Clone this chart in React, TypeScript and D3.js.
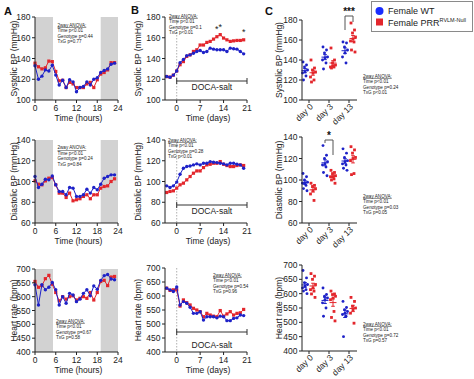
import React from "react";
import * as d3 from "d3";

// ---------- DATA ----------
const hours = [0, 1, 2, 3, 4, 5, 6, 7, 8, 9, 10, 11, 12, 13, 14, 15, 16, 17, 18, 19, 20, 21, 22, 23];
const days = [-3, -2, -1, 0, 1, 2, 3, 4, 5, 6, 7, 8, 9, 10, 11, 12, 13, 14, 15, 16, 17, 18, 19, 20];
const hourTicks = [0, 6, 12, 18, 24];
const dayTicks = [0, 7, 14, 21];
const cDays = ["day 0", "day 3", "day 13"];

const sysHrWT = [133, 120, 123, 129, 128, 133.5, 124, 114.5, 119, 112, 119.5, 117.5, 108, 112, 113, 117.5, 114.5, 120, 121.5, 126.5, 128.5, 130, 134.5, 135.5];
const sysHrKO = [135.5, 132, 130, 131, 137.5, 137, 127.5, 118.5, 119, 112, 117, 115.5, 112, 112, 112, 115.5, 117, 112, 119.5, 125, 126.5, 129, 136, 136];
const diaHrWT = [104.8, 94.2, 97.4, 102.2, 101.6, 105.4, 96.8, 90.4, 90.4, 87.2, 94.2, 93.6, 85.6, 85.6, 87.2, 92.6, 88.8, 94.2, 92, 97.4, 103.2, 104.8, 106.4, 106.4];
const diaHrKO = [100.6, 97.4, 96.8, 100.6, 103.2, 103.8, 96.8, 88.8, 88.8, 84.6, 88.8, 81.4, 82.4, 83.4, 85.6, 87.2, 83.4, 87.2, 87.2, 93.6, 95.2, 95.8, 100, 102.6];
const hrHrWT = [643, 570, 643, 625, 634, 651, 625, 570, 600, 576, 612, 606, 582, 591, 612, 625, 603, 639, 627, 659, 676, 680, 664, 661];
const hrHrKO = [655, 634, 640, 665, 677, 645, 615, 585, 600, 591, 600, 603, 588, 594, 600, 594, 615, 588, 615, 655, 659, 640, 671, 673];

const sysDayWT = [122.6, 122, 124, 128, 136, 139, 142.6, 143.5, 145, 146.8, 147.7, 145.8, 146.8, 150, 149, 148.4, 148.4, 148.4, 146.8, 150, 149.4, 149, 146.8, 144.5];
const sysDayKO = [122.6, 122, 124, 128, 134, 137, 142, 143.5, 146.8, 148.4, 153, 153, 155.5, 156.5, 158.7, 161, 163, 159.7, 158, 156.5, 157, 157.4, 157.4, 158];
const diaDayWT = [95.8, 94.2, 95.8, 99.4, 107, 112.8, 114.4, 115, 116, 117, 116, 117.6, 117.6, 119.2, 118.6, 118.2, 117.6, 117, 116, 117.6, 117.6, 116.6, 116, 112.8];
const diaDayKO = [89.4, 90.4, 91, 93.6, 96.8, 98.4, 101.6, 104.8, 108, 110.2, 110.2, 113.4, 116, 116.6, 117.6, 117.6, 119.2, 116.6, 115.4, 114.4, 114.4, 115.4, 116, 115.4];
const hrDayWT = [628, 622, 616, 632, 568, 580, 574, 560, 538, 538, 544, 514, 526, 526, 526, 522, 528, 526, 512, 512, 520, 522, 532, 530];
const hrDayKO = [628, 620, 622, 622, 564, 586, 576, 568, 556, 550, 544, 526, 538, 532, 528, 526, 548, 528, 536, 544, 532, 538, 540, 552];
const sysSigDays = [12, 13, 20];

const sbpCWT = [[138, 135, 133, 130, 128, 127, 124, 120], [153, 150, 147, 143, 142, 140, 137, 131], [158, 157, 153, 150, 147, 143, 137]];
const sbpCKO = [[140, 132, 130, 128, 127, 123, 120, 118], [152, 140, 137, 135, 134, 133, 133, 132], [177, 170, 167, 163, 161, 159, 158, 150, 148]];
const dbpCWT = [[106, 103, 100, 98, 97, 97, 95, 92, 90], [132, 123, 120, 117, 115, 114, 112, 107, 104], [129, 125, 121, 118, 117, 115, 114, 111, 109]];
const dbpCKO = [[97, 95, 94, 92, 90, 87, 81], [109, 107, 106, 104, 103, 103, 101, 100, 97], [131, 128, 125, 121, 120, 118, 106, 105]];
const hrCWT = [[681, 655, 638, 632, 626, 620, 614, 609, 600], [620, 597, 591, 585, 579, 568, 550, 521], [573, 552, 544, 538, 532, 527, 521, 450]];
const hrCKO = [[670, 661, 650, 632, 620, 614, 609, 599, 587], [609, 599, 597, 591, 585, 579, 538, 517, 505], [587, 573, 556, 550, 544, 532, 497]];

const sysTicks = [100, 120, 140, 160, 180];
const diaTicks = [60, 80, 100, 120, 140];
const hrTicks = [400, 450, 500, 550, 600, 650, 700];

const anova = {
  sysA: ["Time p<0.01", "Genotype p=0.44", "TxG p=0.77"],
  sysB: ["Time p<0.01", "Genotype p=0.1", "TxG p<0.01"],
  sysC: ["Time p<0.01", "Genotype p=0.24", "TxG p<0.01"],
  diaA: ["Time p<0.01", "Genotype p=0.24", "TxG p=0.84"],
  diaB: ["Time p<0.01", "Genotype p=0.28", "TxG p<0.01"],
  diaC: ["Time p<0.01", "Genotype p=0.03", "TxG p=0.05"],
  hrA: ["Time p<0.01", "Genotype p=0.67", "TxG p=0.58"],
  hrB: ["Time p<0.01", "Genotype p=0.54", "TxG p=0.96"],
  hrC: ["Time p<0.01", "Genotype p=0.72", "TxG p=0.57"],
};

// ---------- STYLE ----------
const BLUE = "#1e22c8";
const RED = "#e3262c";
const AX = "#222";
const FONT = "Arial, 'Liberation Sans', sans-serif";
const FS = 8.5;

const jitter = [-2, 1.5, -0.5, 2.5, 0, -2.5, 1, -1.5, 2, -1];

function YAxis({ x0, y, ticks, label, labelX }: any) {
  const [b, t] = y.range();
  return (
    <g>
      <line x1={x0} x2={x0} y1={b} y2={t} stroke={AX} strokeWidth={1} />
      {ticks.map((v: number) => (
        <g key={v}>
          <line x1={x0 - 3} x2={x0} y1={y(v)} y2={y(v)} stroke={AX} strokeWidth={1} />
          <text x={x0 - 4.5} y={y(v)} textAnchor="end" dominantBaseline="central" fontSize={FS} fill="#222">{v}</text>
        </g>
      ))}
      <text transform={`translate(${labelX},${(b + t) / 2}) rotate(-90)`} textAnchor="middle" dominantBaseline="central" fontSize={FS} fill="#222">{label}</text>
    </g>
  );
}

function XAxis({ x, y0, ticks, title, x0, x1 }: any) {
  return (
    <g>
      <line x1={x0} x2={x1} y1={y0} y2={y0} stroke={AX} strokeWidth={1} />
      {ticks.map((v: number) => (
        <g key={v}>
          <line x1={x(v)} x2={x(v)} y1={y0} y2={y0 + 3} stroke={AX} strokeWidth={1} />
          <text x={x(v)} y={y0 + 10.5} textAnchor="middle" fontSize={FS} fill="#222">{v}</text>
        </g>
      ))}
      <text x={(x0 + x1) / 2 + 2} y={y0 + 21} textAnchor="middle" fontSize={FS} fill="#222">{title}</text>
    </g>
  );
}

function Anova({ x, y, lines }: any) {
  const fs = 4.6;
  const dy = 5.6;
  return (
    <g fontSize={fs} fill="#222">
      <text x={x} y={y} style={{ textDecoration: "underline" }}>2way ANOVA:</text>
      {lines.map((l: string, i: number) => (
        <text key={i} x={x} y={y + dy * (i + 1)}>{l}</text>
      ))}
    </g>
  );
}

function Series({ xs, vals, x, y, color, square }: any) {
  const line = d3.line<number>().x((_, i) => x(xs[i])).y((v) => y(v));
  return (
    <g>
      <path d={line(vals) || ""} fill="none" stroke={color} strokeWidth={1} />
      {vals.map((v: number, i: number) =>
        square ? (
          <rect key={i} x={x(xs[i]) - 1.6} y={y(v) - 1.6} width={3.2} height={3.2} fill={color} />
        ) : (
          <circle key={i} cx={x(xs[i])} cy={y(v)} r={1.7} fill={color} />
        )
      )}
    </g>
  );
}

function LinePanel({ kind, x0, x1, top, bot, domain, ticks, label, labelX, wt, ko, anovaPos, anovaLines, docaY, docaTextY, sig }: any) {
  const isA = kind === "A";
  const x = isA
    ? d3.scaleLinear().domain([0, 24]).range([x0, x1])
    : d3.scaleLinear().domain([-3.5, 21]).range([x0, x1]);
  const y = d3.scaleLinear().domain(domain).range([bot, top]);
  const xs = isA ? hours : days;
  return (
    <g>
      {isA && (
        <g>
          <rect x={x(0)} y={top} width={x(5.2) - x(0)} height={bot - top} fill="#d2d2d2" />
          <rect x={x(19)} y={top} width={x(24) - x(19)} height={bot - top} fill="#d2d2d2" />
        </g>
      )}
      {!isA && (
        <g>
          <line x1={x(0)} x2={x(0)} y1={top} y2={bot} stroke="#9a9a9a" strokeWidth={0.8} strokeDasharray="1.5,1.5" />
          <line x1={x(0)} x2={x(21)} y1={docaY} y2={docaY} stroke="#333" strokeWidth={1} />
          <line x1={x(0)} x2={x(0)} y1={docaY - 3} y2={docaY + 3} stroke="#333" strokeWidth={1} />
          <line x1={x(21)} x2={x(21)} y1={docaY - 3} y2={docaY + 3} stroke="#333" strokeWidth={1} />
          <text x={(x(0) + x(21)) / 2} y={docaTextY} textAnchor="middle" fontSize={FS} fill="#222">DOCA-salt</text>
        </g>
      )}
      <Series xs={xs} vals={ko} x={x} y={y} color={RED} square />
      <Series xs={xs} vals={wt} x={x} y={y} color={BLUE} />
      {sig &&
        sig.map((d: number, i: number) => {
          const v = Math.max(ko[xs.indexOf(d)], wt[xs.indexOf(d)]);
          return (
            <text key={i} x={x(d)} y={y(v) - 5} textAnchor="middle" fontSize={9} fill="#222">*</text>
          );
        })}
      <YAxis x0={x0} y={y} ticks={ticks} label={label} labelX={labelX} />
      <XAxis x={x} y0={bot} ticks={isA ? hourTicks : dayTicks} title={isA ? "Time (hours)" : "Time (days)"} x0={x0} x1={x(isA ? 24 : 21)} />
      <Anova x={anovaPos[0]} y={anovaPos[1]} lines={anovaLines} />
    </g>
  );
}

function ScatterGroup({ vals, cx, y, color, square }: any) {
  const m = d3.mean(vals) as number;
  const sem = (d3.deviation(vals) as number) / Math.sqrt(vals.length);
  const sorted = [...vals].sort((a: number, b: number) => b - a);
  return (
    <g>
      {sorted.map((v: number, i: number) =>
        square ? (
          <rect key={i} x={cx + jitter[i % jitter.length] - 1.4} y={y(v) - 1.4} width={2.8} height={2.8} fill={color} />
        ) : (
          <circle key={i} cx={cx + jitter[i % jitter.length]} cy={y(v)} r={1.45} fill={color} />
        )
      )}
      <line x1={cx - 3.5} x2={cx + 3.5} y1={y(m)} y2={y(m)} stroke={color} strokeWidth={1} />
      <line x1={cx} x2={cx} y1={y(m - sem)} y2={y(m + sem)} stroke={color} strokeWidth={1} />
      <line x1={cx - 1.8} x2={cx + 1.8} y1={y(m - sem)} y2={y(m - sem)} stroke={color} strokeWidth={1} />
      <line x1={cx - 1.8} x2={cx + 1.8} y1={y(m + sem)} y2={y(m + sem)} stroke={color} strokeWidth={1} />
    </g>
  );
}

function ScatterPanel({ top, bot, domain, ticks, label, wt, ko, anovaPos, anovaLines, children }: any) {
  const x0 = 302;
  const x = d3.scalePoint().domain(cDays).range([309, 349]);
  const y = d3.scaleLinear().domain(domain).range([bot, top]);
  return (
    <g>
      {cDays.map((d, i) => (
        <g key={d}>
          <ScatterGroup vals={wt[i]} cx={(x(d) as number) - 4} y={y} color={BLUE} />
          <ScatterGroup vals={ko[i]} cx={(x(d) as number) + 4} y={y} color={RED} square />
        </g>
      ))}
      <YAxis x0={x0} y={y} ticks={ticks} label={label} labelX={279} />
      <line x1={x0} x2={357} y1={bot} y2={bot} stroke={AX} strokeWidth={1} />
      {cDays.map((d) => (
        <g key={d}>
          <line x1={x(d)} x2={x(d)} y1={bot} y2={bot + 3} stroke={AX} strokeWidth={1} />
          <text transform={`translate(${(x(d) as number) + 2.5},${bot + 5}) rotate(-45)`} textAnchor="end" dy="0.35em" fontSize={FS} fill="#222">{d}</text>
        </g>
      ))}
      <Anova x={anovaPos[0]} y={anovaPos[1]} lines={anovaLines} />
      {children && children(x, y)}
    </g>
  );
}

export default function App() {
  return (
    <svg width={474} height={379} style={{ position: "absolute", left: 0, top: 0, background: "#fff", fontFamily: FONT }}>
      <rect width={474} height={379} fill="#fff" />
      {/* panel letters */}
      <text x={4} y={15} fontSize={11} fontWeight="bold" fill="#111">A</text>
      <text x={131} y={14} fontSize={11} fontWeight="bold" fill="#111">B</text>
      <text x={265} y={15} fontSize={11} fontWeight="bold" fill="#111">C</text>

      {/* Row 1 */}
      <LinePanel kind="A" x0={35} x1={118} top={17} bot={100} domain={[100, 180]} ticks={sysTicks} label="Systolic BP (mmHg)" labelX={13.5} wt={sysHrWT} ko={sysHrKO} anovaPos={[57.5, 26.5]} anovaLines={anova.sysA} />
      <LinePanel kind="B" x0={165} x1={247} top={17} bot={100} domain={[100, 180]} ticks={sysTicks} label="Systolic BP (mmHg)" labelX={137.5} wt={sysDayWT} ko={sysDayKO} anovaPos={[169, 17.5]} anovaLines={anova.sysB} docaY={81} docaTextY={90} sig={sysSigDays} />
      <ScatterPanel top={20} bot={100} domain={[100, 180]} ticks={sysTicks} label="Systolic BP (mmHg)" wt={sbpCWT} ko={sbpCKO} anovaPos={[363, 77.5]} anovaLines={anova.sysC}>
        {(x: any) => {
          const a = (x("day 13") as number) - 4;
          const b = (x("day 13") as number) + 4;
          return (
            <g>
              <path d={`M${a},30V16H${b}V22`} fill="none" stroke="#555" strokeWidth={1} />
              <text x={(a + b) / 2} y={15} textAnchor="middle" fontSize={10} fontWeight="bold" fill="#111">***</text>
            </g>
          );
        }}
      </ScatterPanel>

      {/* Row 2 */}
      <LinePanel kind="A" x0={35} x1={118} top={140} bot={223} domain={[60, 140]} ticks={diaTicks} label="Diastolic BP (mmHg)" labelX={13.5} wt={diaHrWT} ko={diaHrKO} anovaPos={[57.5, 149]} anovaLines={anova.diaA} />
      <LinePanel kind="B" x0={165} x1={247} top={140} bot={223} domain={[60, 140]} ticks={diaTicks} label="Diastolic BP (mmHg)" labelX={137.5} wt={diaDayWT} ko={diaDayKO} anovaPos={[168, 141.5]} anovaLines={anova.diaB} docaY={205} docaTextY={214} />
      <ScatterPanel top={137} bot={223} domain={[60, 140]} ticks={diaTicks} label="Diastolic BP (mmHg)" wt={dbpCWT} ko={dbpCKO} anovaPos={[363, 197.5]} anovaLines={anova.diaC}>
        {(x: any) => {
          const a = (x("day 3") as number) - 4;
          const b = (x("day 3") as number) + 4;
          return (
            <g>
              <path d={`M${a},143V140H${b}V155`} fill="none" stroke="#555" strokeWidth={1} />
              <text x={(a + b) / 2} y={139} textAnchor="middle" fontSize={10} fontWeight="bold" fill="#111">*</text>
            </g>
          );
        }}
      </ScatterPanel>

      {/* Row 3 */}
      <LinePanel kind="A" x0={35} x1={118} top={269} bot={352} domain={[400, 700]} ticks={hrTicks} label="Heart rate (bpm)" labelX={13.5} wt={hrHrWT} ko={hrHrKO} anovaPos={[56, 322.5]} anovaLines={anova.hrA} />
      <LinePanel kind="B" x0={165} x1={247} top={268} bot={352} domain={[400, 700]} ticks={hrTicks} label="Heart rate (bpm)" labelX={137.5} wt={hrDayWT} ko={hrDayKO} anovaPos={[213, 276.5]} anovaLines={anova.hrB} docaY={332} docaTextY={348} />
      <ScatterPanel top={265} bot={351} domain={[400, 700]} ticks={hrTicks} label="Heart rate (bpm)" wt={hrCWT} ko={hrCKO} anovaPos={[363, 325.5]} anovaLines={anova.hrC} />

      {/* Legend */}
      <rect x={371.5} y={1.5} width={101} height={30} fill="#fff" stroke="#8a8a8a" strokeWidth={1} />
      <circle cx={379.5} cy={11} r={4} fill="#1a2cff" />
      <rect x={376} y={18.5} width={7} height={7} fill={RED} />
      <text x={388} y={14.3} fontSize={9} fill="#222">Female WT</text>
      <text x={388} y={25.5} fontSize={9} fill="#222">
        Female PRR<tspan fontSize={5.5} dy={-3.2}>RVLM-Null</tspan>
      </text>
    </svg>
  );
}
